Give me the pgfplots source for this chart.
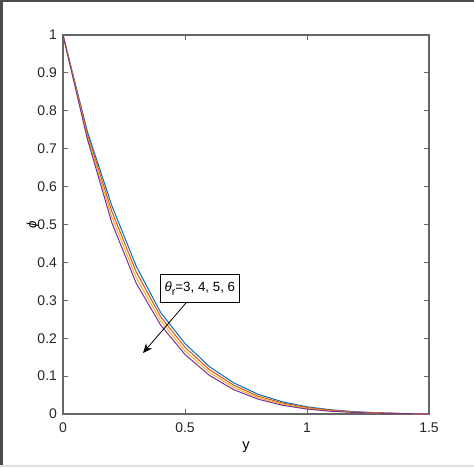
\documentclass[border=0pt]{standalone}
\usepackage{fontspec}
\setmainfont{Liberation Sans}
\usepackage{pgfplots}
\pgfplotsset{compat=1.18}
\usetikzlibrary{arrows.meta}
\definecolor{mblue}{rgb}{0,0.447,0.741}
\definecolor{morange}{rgb}{0.85,0.325,0.098}
\definecolor{myellow}{rgb}{0.929,0.694,0.125}
\definecolor{mpurple}{rgb}{0.494,0.184,0.556}
\definecolor{axgray}{rgb}{0.4,0.4,0.4}
\begin{document}
\begin{tikzpicture}
\begin{axis}[
  scale only axis,
  width=274.5pt, height=284.25pt,
  xmin=0, xmax=1.5, ymin=0, ymax=1,
  xtick={0,0.5,1,1.5},
  xticklabels={0,0.5,1,1.5},
  ytick={0,0.1,0.2,0.3,0.4,0.5,0.6,0.7,0.8,0.9,1},
  yticklabels={0,0.1,0.2,0.3,0.4,0.5,0.6,0.7,0.8,0.9,1},
  tick align=inside,
  tick pos=both,
  major tick length=4pt,
  axis line style={axgray, line width=0.8pt},
  every tick/.style={axgray, line width=0.6pt},
  tick label style={font=\fontsize{10.5}{12}\selectfont, text=black!85},
  xticklabel style={yshift=-3pt},
  yticklabel style={xshift=-1pt},
  xlabel={y},
  ylabel={\itshape ϕ},
  every axis x label/.style={at={(axis description cs:0.5,-0.087)}, anchor=center, font=\fontsize{11}{13}\selectfont},
  every axis y label/.style={at={(axis description cs:-0.082,0.5)}, rotate=90, anchor=center, font=\fontsize{10}{12}\selectfont},
  clip=true,
]
\addplot[mblue, line width=0.75pt] coordinates {
(0,1) (0.1,0.745) (0.2,0.55) (0.3,0.39) (0.4,0.268) (0.5,0.186) (0.6,0.125) (0.7,0.082) (0.8,0.052) (0.9,0.032) (1.0,0.019) (1.1,0.011) (1.2,0.006) (1.3,0.003) (1.4,0.001) (1.5,0)};
\addplot[morange, line width=0.75pt] coordinates {
(0,1) (0.1,0.738) (0.2,0.535) (0.3,0.375) (0.4,0.257) (0.5,0.176) (0.6,0.117) (0.7,0.076) (0.8,0.047) (0.9,0.029) (1.0,0.017) (1.1,0.010) (1.2,0.005) (1.3,0.003) (1.4,0.001) (1.5,0)};
\addplot[myellow, line width=0.75pt] coordinates {
(0,1) (0.1,0.731) (0.2,0.52) (0.3,0.36) (0.4,0.246) (0.5,0.166) (0.6,0.110) (0.7,0.070) (0.8,0.043) (0.9,0.026) (1.0,0.015) (1.1,0.008) (1.2,0.0045) (1.3,0.002) (1.4,0.001) (1.5,0)};
\addplot[mpurple, line width=0.75pt] coordinates {
(0,1) (0.1,0.725) (0.2,0.505) (0.3,0.345) (0.4,0.235) (0.5,0.157) (0.6,0.102) (0.7,0.064) (0.8,0.039) (0.9,0.023) (1.0,0.013) (1.1,0.007) (1.2,0.004) (1.3,0.002) (1.4,0.001) (1.5,0)};
\draw[-{Stealth[length=7pt,width=6pt]}, line width=0.6pt, black] (axis cs:0.504,0.293) -- (axis cs:0.328,0.161);
\node[draw=black, fill=white, line width=0.6pt, inner xsep=3pt, inner ysep=0pt, minimum height=21pt, font=\fontsize{10}{12}\selectfont] at (axis cs:0.561,0.332) {{\itshape θ}\raisebox{-3pt}{\fontsize{8}{9}\selectfont r}=3, 4, 5, 6};
\end{axis}
% image frame
\path[use as bounding box] (-47.25pt,-39.75pt) rectangle (308.25pt,310.5pt);
\fill[black!70] (-47.25pt,309pt) rectangle (308.25pt,310.5pt);
\fill[black!70] (-47.25pt,-39.75pt) rectangle (-45.25pt,310.5pt);
\fill[black!12] (-47.25pt,-39.75pt) rectangle (308.25pt,-38.25pt);
\end{tikzpicture}
\end{document}
